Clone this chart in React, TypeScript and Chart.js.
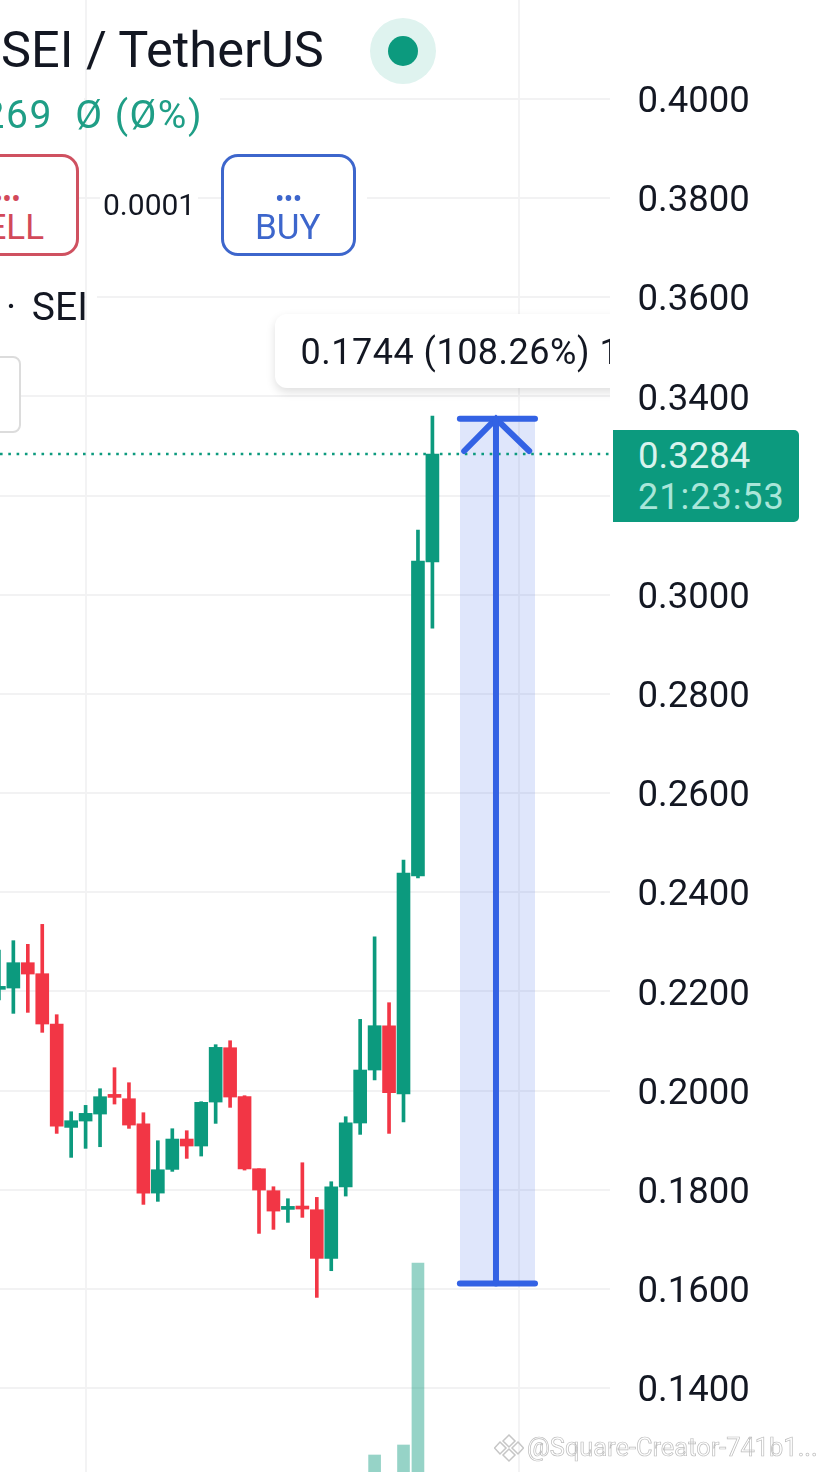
import React, { useEffect, useRef } from "react";
import { Chart, registerables } from "chart.js";

Chart.register(...registerables);

const GREEN = "#0c9a7e";
const RED = "#f23645";
const BLUE = "#3362e4";
const FONT = "Roboto, sans-serif";

const opens = [0.22041, 0.22068, 0.22579, 0.22357, 0.21342, 0.19257, 0.19385, 0.19526, 0.19916, 0.19835, 0.19331, 0.17932, 0.1841, 0.19022, 0.18881, 0.19768, 0.20864, 0.19876, 0.18423, 0.1798, 0.17603, 0.17657, 0.17596, 0.16615, 0.18054, 0.19345, 0.20414, 0.21308, 0.1993, 0.24327, 0.30661];
const closes = [0.22095, 0.22579, 0.2235, 0.21342, 0.19284, 0.19392, 0.1954, 0.19876, 0.19862, 0.19304, 0.17932, 0.18403, 0.19022, 0.18881, 0.19762, 0.20871, 0.19869, 0.18417, 0.17993, 0.17569, 0.17657, 0.1761, 0.16615, 0.1806, 0.19351, 0.20414, 0.21308, 0.19956, 0.24387, 0.30681, 0.3284];
const highs = [0.22834, 0.23023, 0.22949, 0.23352, 0.2153, 0.19573, 0.19701, 0.20037, 0.20461, 0.20158, 0.19553, 0.18988, 0.1923, 0.1919, 0.19775, 0.20925, 0.21005, 0.19896, 0.18423, 0.1806, 0.17818, 0.18544, 0.17845, 0.18161, 0.19472, 0.21436, 0.23103, 0.21772, 0.2465, 0.31306, 0.33606];
const lows = [0.21826, 0.21557, 0.21577, 0.21174, 0.19136, 0.18652, 0.18834, 0.18867, 0.19728, 0.19237, 0.17704, 0.17765, 0.1837, 0.18632, 0.18679, 0.19338, 0.19661, 0.18396, 0.17119, 0.172, 0.17341, 0.17442, 0.15828, 0.16366, 0.17872, 0.19116, 0.20212, 0.19136, 0.19365, 0.24287, 0.29329];
const candleIndex = opens.map((_, i) => i);

const volumeIndex = [26, 28, 29];
const volumeValues = [17, 27, 209];

const priceTicks = [0.14, 0.16, 0.18, 0.2, 0.22, 0.24, 0.26, 0.28, 0.3, 0.32, 0.34, 0.36, 0.38, 0.4];
const timeTicks = [6, 36];
const lastPrice = 0.3284;

const measureLow = 0.1611;
const measureHigh = 0.3355;
const measureLeft = 31.9;
const measureCenter = 34.4;
const measureRight = 37.1;
const arrowLeft = 32.2;
const arrowRight = 36.7;
const arrowFoot = 0.329;

const Y_MIN = 0.12306;
const Y_MAX = 0.41997;
const X_MIN = 0.0761;
const X_MAX = 42.29;
const V_MAX = 1472;

type TextProps = { left?: number; right?: number; cy: number; size: number; color: string; children: React.ReactNode; weight?: number; spacing?: number; words?: number };
function T({ left, right, cy, size, color, children, weight = 400, spacing = 0, words = 0 }: TextProps) {
  return (
    <div
      style={{
        position: "absolute",
        left,
        right,
        top: cy,
        transform: "translateY(-50%)",
        fontFamily: FONT,
        fontSize: size,
        lineHeight: 1,
        color,
        fontWeight: weight,
        letterSpacing: spacing,
        wordSpacing: words,
        whiteSpace: "pre",
      }}
    >
      {children}
    </div>
  );
}

const gridMasks = [
  [0, 96, 84, 6],
  [87, 96, 133, 6],
  [355, 195, 12, 6],
  [100, 195, 98, 6],
  [0, 294, 84, 6],
  [87, 294, 10, 6],
];

export default function App() {
  const ref = useRef<HTMLCanvasElement | null>(null);

  useEffect(() => {
    const line = (data: { x: number; y: number }[], color: string, order: number, width = 6, extra: object = {}) => ({
      type: "line",
      data,
      borderColor: color,
      borderWidth: width,
      pointRadius: 0,
      borderCapStyle: "round",
      order,
      ...extra,
    });
    const chart = new Chart(ref.current as HTMLCanvasElement, {
      type: "bar",
      data: {
        datasets: [
          line([{ x: measureLeft, y: measureHigh }, { x: measureRight, y: measureHigh }], "rgba(0,0,0,0)", 20, 0, {
            fill: { value: measureLow },
            backgroundColor: "rgba(51,98,228,0.155)",
          }),
          {
            type: "bar",
            data: volumeIndex.map((x, i) => ({ x, y: volumeValues[i] })),
            yAxisID: "v",
            backgroundColor: "rgba(12,154,126,0.43)",
            grouped: false,
            barPercentage: 1,
            categoryPercentage: 1,
            maxBarThickness: 12,
            order: 15,
          },
          {
            type: "bar",
            data: candleIndex.map((x) => ({ x, y: [lows[x], highs[x]] })),
            backgroundColor: candleIndex.map((i) => (closes[i] >= opens[i] ? GREEN : RED)),
            grouped: false,
            barPercentage: 1,
            categoryPercentage: 1,
            maxBarThickness: 3,
            order: 10,
          },
          {
            type: "bar",
            data: candleIndex.map((x) => ({ x, y: [opens[x], closes[x]] })),
            backgroundColor: candleIndex.map((i) => (closes[i] >= opens[i] ? GREEN : RED)),
            grouped: false,
            barPercentage: 1,
            categoryPercentage: 1,
            maxBarThickness: 13,
            minBarLength: 3,
            order: 9,
          },
          line([{ x: X_MIN, y: lastPrice }, { x: X_MAX, y: lastPrice }], GREEN, 8, 2.6, { borderDash: [2.6, 5.7], borderCapStyle: "butt" }),
          line([{ x: measureCenter, y: measureLow }, { x: measureCenter, y: measureHigh }], BLUE, 5),
          line([{ x: measureLeft, y: measureLow }, { x: measureRight, y: measureLow }], BLUE, 5),
          line([{ x: measureLeft, y: measureHigh }, { x: measureRight, y: measureHigh }], BLUE, 5),
          line([{ x: arrowLeft, y: arrowFoot }, { x: measureCenter, y: measureHigh }, { x: arrowRight, y: arrowFoot }], BLUE, 5),
        ],
      } as any,
      options: {
        animation: false,
        responsive: false,
        devicePixelRatio: 1,
        layout: { padding: 0 },
        plugins: { legend: { display: false }, tooltip: { enabled: false } },
        scales: {
          x: {
            type: "linear",
            min: X_MIN,
            max: X_MAX,
            offset: false,
            border: { display: false },
            grid: { color: "#f3f3f4", lineWidth: 2, drawTicks: false, offset: false },
            ticks: { display: false },
            afterBuildTicks: (s: any) => {
              s.ticks = timeTicks.map((value) => ({ value }));
            },
          },
          y: {
            type: "linear",
            position: "right",
            min: Y_MIN,
            max: Y_MAX,
            border: { display: false },
            grid: { color: "#f2f2f3", lineWidth: 2, drawTicks: false },
            ticks: {
              autoSkip: false,
              padding: 27.5,
              labelOffset: 4,
              color: "#131722",
              font: { family: FONT, size: 36.5 },
              callback: (v: any) => Number(v).toFixed(4),
            },
            afterBuildTicks: (s: any) => {
              s.ticks = priceTicks.map((value) => ({ value }));
            },
            afterFit: (s: any) => {
              s.width = 209;
              s.paddingTop = 0;
              s.paddingBottom = 0;
            },
          },
          v: { type: "linear", display: false, min: 0, max: V_MAX },
        },
      } as any,
    });
    return () => chart.destroy();
  }, []);

  return (
    <div style={{ position: "absolute", left: 0, top: 0, width: 819, height: 1472, overflow: "hidden", background: "#fff" }}>
      <canvas ref={ref} width={819} height={1472} style={{ display: "block", position: "absolute", left: 0, top: 0 }} />

      {gridMasks.map(([l, t, w, h], i) => (
        <div key={i} style={{ position: "absolute", left: l, top: t, width: w, height: h, background: "#fff" }} />
      ))}

      <T left={1} cy={50} size={50.5} color="#131722">SEI / TetherUS</T>
      <div style={{ position: "absolute", left: 370, top: 18, width: 66, height: 66, borderRadius: "50%", background: "#dff3ef" }} />
      <div style={{ position: "absolute", left: 388, top: 36, width: 30, height: 30, borderRadius: "50%", background: GREEN }} />

      <T right={616} cy={115} size={39} color="#1f9e86" spacing={1.5}>{"269  Ø (Ø%)"}</T>

      <div style={{ position: "absolute", left: -60, top: 154, width: 139, height: 102, boxSizing: "border-box", border: "3px solid #cf5160", borderRadius: 17, background: "#fff" }} />
      <T right={799} cy={199} size={28} color="#d2495a" spacing={-0.6}>•••</T>
      <T right={775} cy={227} size={35} color="#d2495a">SELL</T>

      <T left={103} cy={205} size={30} color="#131722">0.0001</T>

      <div style={{ position: "absolute", left: 221, top: 154, width: 135, height: 102, boxSizing: "border-box", border: "3px solid #3d66cc", borderRadius: 17, background: "#fff" }} />
      <T left={275} cy={199} size={28} color="#3d66cc" spacing={-0.6}>•••</T>
      <T left={255} cy={227} size={35} color="#3d66cc">BUY</T>

      <T left={6} cy={307} size={39} color="#131722" words={6}>{"· SEI"}</T>

      <div style={{ position: "absolute", left: -60, top: 356, width: 81, height: 77, boxSizing: "border-box", border: "2.5px solid #dcdcdc", borderRadius: 8, background: "#fff" }} />

      <div style={{ position: "absolute", left: 255, top: 300, width: 355, height: 110, overflow: "hidden" }}>
        <div style={{ position: "absolute", left: 20, top: 14, width: 400, height: 74, borderRadius: 12, background: "#fff", boxShadow: "0 4px 10px rgba(0,0,0,0.13)" }} />
        <T left={45.5} cy={52} size={36} color="#131722" spacing={0.5}>0.1744 (108.26%) 1744</T>
      </div>

      <div style={{ position: "absolute", left: 613, top: 430, width: 186, height: 92, background: GREEN, borderRadius: "0 5px 5px 0" }} />
      <T left={638} cy={456} size={36.5} color="#d8f3ed">0.3284</T>
      <T left={638} cy={497} size={36} color="#a9e6d9" spacing={1}>21:23:53</T>

      <svg width={30} height={30} viewBox="0 0 30 30" style={{ position: "absolute", left: 494, top: 1433 }}>
        <g fill="none" stroke="#c6c6c6" strokeWidth={1.5}>
          <path d="M15 2 L21 8 L15 14 L9 8 Z" />
          <path d="M6 9 L12 15 L6 21 L0.5 15 Z" />
          <path d="M24 9 L29.5 15 L24 21 L18 15 Z" />
          <path d="M15 16 L21 22 L15 28 L9 22 Z" />
        </g>
      </svg>
      <div
        style={{
          position: "absolute",
          left: 527,
          top: 1448,
          transform: "translateY(-50%)",
          fontFamily: FONT,
          fontSize: 25.4,
          lineHeight: 1,
          whiteSpace: "pre",
          color: "rgba(255,255,255,0.85)",
          WebkitTextStroke: "0.7px #bdbdbd",
        }}
      >
        @Square-Creator-741b1...
      </div>
    </div>
  );
}
